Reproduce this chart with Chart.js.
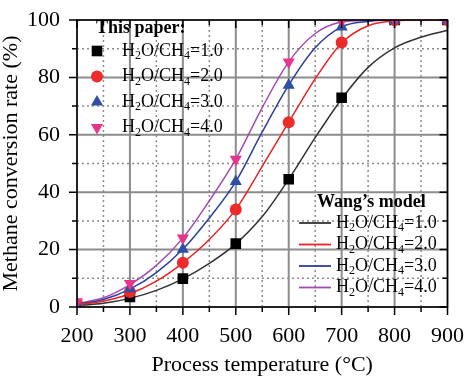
<!DOCTYPE html>
<html>
<head>
<meta charset="utf-8">
<script src="https://cdn.jsdelivr.net/npm/chart.js@4.4.1/dist/chart.umd.min.js"></script>
<style>
html, body { margin: 0; padding: 0; background: #fff; }
#wrap { width: 474px; height: 379px; position: relative; }
</style>
</head>
<body>
<div id="wrap"><canvas id="conversionChart"></canvas></div>
<script>
// Methane conversion rate vs. process temperature

const ratios = ['1.0', '2.0', '3.0', '4.0'];

// This paper (markers)
const expTemps = [200, 300, 400, 500, 600, 700, 800, 900];
const expRatio1 = [0.5, 3.5, 9.9, 22.1, 44.5, 72.9, 100, 100];
const expRatio2 = [0.8, 5.2, 15.4, 34.0, 64.4, 92.2, 100, 100];
const expRatio3 = [1.0, 6.4, 20.1, 43.7, 77.3, 97.6, 100, 100];
const expRatio4 = [1.8, 8.2, 24.0, 51.5, 85.4, 99.6, 100, 100];

// Wang's model (curves), read every 50 °C
const modelTemps = [200, 250, 300, 350, 400, 450, 500, 550, 600, 650, 700, 750, 800, 850, 900];
const modelRatio1 = [0.5, 1.3, 3.0, 5.8, 9.8, 15.2, 22.0, 31.5, 44.5, 59.0, 72.5, 83.5, 90.3, 94.0, 96.4];
const modelRatio2 = [0.8, 2.0, 4.6, 9.0, 15.4, 23.5, 34.0, 49.0, 64.4, 79.5, 92.0, 98.0, 99.7, 100, 100];
const modelRatio3 = [1.0, 2.6, 6.2, 12.0, 20.1, 31.0, 43.7, 61.0, 77.3, 90.3, 97.6, 99.5, 100, 100, 100];
const modelRatio4 = [1.2, 3.2, 7.8, 14.5, 24.0, 37.0, 51.5, 69.5, 85.4, 95.3, 99.3, 99.9, 100, 100, 100];

const lineColors = ['#333333', '#ee2222', '#2b3f9e', '#a24bb5'];
const markerColors = ['#000000', '#ee2b2b', '#2f4ea6', '#e8358c'];
const markerStyles = [
    { pointStyle: 'rect', radius: 7.5, rotation: 0 },
    { pointStyle: 'circle', radius: 6, rotation: 0 },
    { pointStyle: 'triangle', radius: 7, rotation: 0 },
    { pointStyle: 'triangle', radius: 7, rotation: 180 }
];

const FONT = '"Liberation Serif", "Times New Roman", serif';

const toPoints = (xs, ys) => xs.map((t, i) => ({ x: t, y: ys[i] }));
const expSeries = [expRatio1, expRatio2, expRatio3, expRatio4];
const modelSeries = [modelRatio1, modelRatio2, modelRatio3, modelRatio4];

const datasets = [];
modelSeries.forEach((vals, i) => {
    datasets.push({
        label: 'Wang H2O/CH4=' + ratios[i],
        data: toPoints(modelTemps, vals),
        borderColor: lineColors[i],
        borderWidth: 1.5,
        pointRadius: 0,
        cubicInterpolationMode: 'monotone',
        fill: false,
        order: 10
    });
});
expSeries.forEach((vals, i) => {
    datasets.push({
        label: 'Exp H2O/CH4=' + ratios[i],
        data: toPoints(expTemps, vals),
        showLine: false,
        pointStyle: markerStyles[i].pointStyle,
        pointRadius: markerStyles[i].radius,
        pointRotation: markerStyles[i].rotation,
        pointBackgroundColor: markerColors[i],
        pointBorderColor: markerColors[i],
        pointBorderWidth: 0,
        order: 4 - i
    });
});

function drawRatioLabel(ctx, x, y, ratio, size) {
    const parts = [['H', 0], ['2', 1], ['O/CH', 0], ['4', 1], ['=' + ratio, 0]];
    let cx = x;
    ctx.textAlign = 'left';
    ctx.textBaseline = 'middle';
    parts.forEach(([s, sub]) => {
        ctx.font = (sub ? Math.round(size * 0.65) : size) + 'px ' + FONT;
        ctx.fillText(s, cx, sub ? y + size * 0.28 : y);
        cx += ctx.measureText(s).width;
    });
}

// grid: solid major / dotted minor, from the scales' own ticks
const gridLines = {
    id: 'gridLines',
    beforeDatasetsDraw(chart) {
        const { ctx, chartArea: a, scales: { x, y } } = chart;
        ctx.save();
        ctx.lineCap = 'butt';
        x.ticks.forEach(t => {
            const major = t.value % 100 === 0;
            const px = x.getPixelForValue(t.value);
            ctx.strokeStyle = '#8c8c8c';
            ctx.lineWidth = major ? 2 : 1.5;
            ctx.setLineDash(major ? [] : [2, 3]);
            ctx.beginPath();
            ctx.moveTo(px, a.top);
            ctx.lineTo(px, a.bottom);
            ctx.stroke();
        });
        y.ticks.forEach(t => {
            const major = t.value % 20 === 0;
            const py = y.getPixelForValue(t.value);
            ctx.strokeStyle = '#8c8c8c';
            ctx.lineWidth = major ? 2 : 1.5;
            ctx.setLineDash(major ? [] : [2, 3]);
            ctx.beginPath();
            ctx.moveTo(a.left, py);
            ctx.lineTo(a.right, py);
            ctx.stroke();
        });
        ctx.restore();
    }
};

const frameAndLegends = {
    id: 'frameAndLegends',
    afterDraw(chart) {
        const { ctx, chartArea: a, scales: { x, y } } = chart;
        ctx.save();
        ctx.fillStyle = '#000';

        // legend: This paper
        ctx.font = 'bold 18px ' + FONT;
        ctx.textAlign = 'left';
        ctx.textBaseline = 'middle';
        ctx.fillText('This paper:', a.left + 19, 28);
        ratios.forEach((r, i) => {
            const ly = 51 + i * 25.5;
            const m = markerStyles[i];
            ctx.fillStyle = markerColors[i];
            Chart.helpers.drawPoint(ctx, {
                pointStyle: m.pointStyle, radius: m.radius, rotation: m.rotation, borderWidth: 0
            }, a.left + 20, ly);
            ctx.fillStyle = '#000';
            drawRatioLabel(ctx, a.left + 45, ly, r, 18);
        });

        // legend: Wang's model
        ctx.font = 'bold 18px ' + FONT;
        ctx.textAlign = 'left';
        ctx.textBaseline = 'middle';
        ctx.fillText('Wang\u2019s model', 317, 202);
        ratios.forEach((r, i) => {
            const ly = 223 + i * 21.5;
            ctx.strokeStyle = lineColors[i];
            ctx.lineWidth = 1.8;
            ctx.beginPath();
            ctx.moveTo(299, ly); ctx.lineTo(331, ly);
            ctx.stroke();
            ctx.fillStyle = '#000';
            drawRatioLabel(ctx, 336, ly, r, 18);
        });

        // frame and ticks: outward on left/bottom, inward on top/right
        ctx.strokeStyle = '#000';
        ctx.lineWidth = 1.5;
        ctx.strokeRect(a.left, a.top, a.right - a.left, a.bottom - a.top);
        ctx.beginPath();
        x.ticks.forEach(t => {
            const px = x.getPixelForValue(t.value);
            const len = t.value % 100 === 0 ? 8 : 5;
            ctx.moveTo(px, a.bottom); ctx.lineTo(px, a.bottom + len);
            ctx.moveTo(px, a.top); ctx.lineTo(px, a.top + len);
        });
        y.ticks.forEach(t => {
            const py = y.getPixelForValue(t.value);
            const len = t.value % 20 === 0 ? 8 : 5;
            ctx.moveTo(a.left, py); ctx.lineTo(a.left - len, py);
            ctx.moveTo(a.right, py); ctx.lineTo(a.right - len, py);
        });
        ctx.stroke();
        ctx.restore();
    }
};

new Chart(document.getElementById('conversionChart'), {
    type: 'line',
    data: { datasets: datasets },
    options: {
        responsive: true,
        maintainAspectRatio: false,
        animation: false,
        layout: { padding: { top: 12, right: 20, left: 0, bottom: 0 } },
        plugins: {
            legend: { display: false },
            tooltip: { enabled: false }
        },
        scales: {
            x: {
                type: 'linear',
                min: 200,
                max: 900,
                afterFit: s => { s.height = 72; },
                ticks: {
                    stepSize: 50,
                    autoSkip: false,
                    maxRotation: 0,
                    padding: 10,
                    color: '#000',
                    font: { family: FONT, size: 22, lineHeight: 1 },
                    callback: v => (v % 100 === 0 ? v : '')
                },
                grid: { display: false },
                border: { display: false },
                title: {
                    display: true,
                    text: 'Process temperature (\u00B0C)',
                    color: '#000',
                    font: { family: FONT, size: 22, lineHeight: 1.2 },
                    padding: { top: 0, bottom: 1 }
                }
            },
            y: {
                min: 0,
                max: 100,
                afterFit: s => { s.width = 77; },
                ticks: {
                    stepSize: 10,
                    autoSkip: false,
                    padding: 9,
                    color: '#000',
                    font: { family: FONT, size: 22, lineHeight: 1 },
                    callback: v => (v % 20 === 0 ? v : '')
                },
                grid: { display: false },
                border: { display: false },
                title: {
                    display: true,
                    text: 'Methane conversion rate (%)',
                    color: '#000',
                    font: { family: FONT, size: 22, lineHeight: 1 },
                    padding: { top: 0, bottom: 0 }
                }
            }
        }
    },
    plugins: [gridLines, frameAndLegends]
});
</script>
</body>
</html>
